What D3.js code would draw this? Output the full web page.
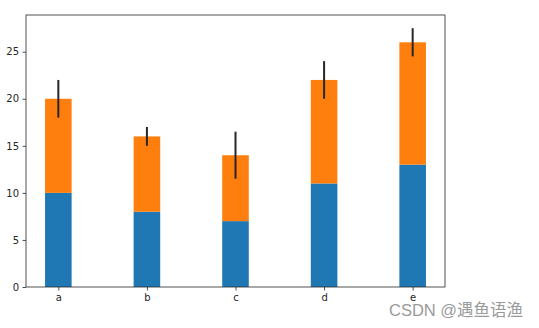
<!DOCTYPE html>
<html>
<head>
<meta charset="utf-8">
<script src="https://cdn.jsdelivr.net/npm/d3@7"></script>
<style>
  body { margin: 0; background: #fff; }
  text { font-family: "DejaVu Sans", sans-serif; }
</style>
</head>
<body>
<script>
// data
const labels = ['a', 'b', 'c', 'd', 'e'];
const bottomVals = [10, 8, 7, 11, 13];
const topVals = [10, 8, 7, 11, 13];
const errVals = [2, 1, 2.5, 2, 1.5];
const yTicks = [0, 5, 10, 15, 20, 25];

const WIDTH = 539, HEIGHT = 328;
const mLeft = 26, mRight = 445, mTop = 15, mBottom = 287;
const barW = 0.3;

const svg = d3.select('body').append('svg')
  .attr('width', WIDTH).attr('height', HEIGHT);

// x: bar index, padded like matplotlib's 5% margin
const x = d3.scaleLinear()
  .domain([-0.365, 4.365])
  .range([mLeft, mRight]);

const y = d3.scaleLinear()
  .domain([0, 28.9])
  .range([mBottom, mTop]);

const totals = bottomVals.map((v, i) => v + topVals[i]);

// bottom bars
svg.append('g').selectAll('rect')
  .data(bottomVals)
  .enter().append('rect')
  .attr('x', (d, i) => x(i - barW / 2))
  .attr('width', (d, i) => x(i + barW / 2) - x(i - barW / 2))
  .attr('y', d => y(d))
  .attr('height', d => y(0) - y(d))
  .attr('fill', '#1f77b4');

// stacked bars
svg.append('g').selectAll('rect')
  .data(topVals)
  .enter().append('rect')
  .attr('x', (d, i) => x(i - barW / 2))
  .attr('width', (d, i) => x(i + barW / 2) - x(i - barW / 2))
  .attr('y', (d, i) => y(totals[i]))
  .attr('height', (d, i) => y(bottomVals[i]) - y(totals[i]))
  .attr('fill', '#ff7f0e');

// error bars
svg.append('g').selectAll('line')
  .data(errVals)
  .enter().append('line')
  .attr('x1', (d, i) => x(i)).attr('x2', (d, i) => x(i))
  .attr('y1', (d, i) => y(totals[i] + d))
  .attr('y2', (d, i) => y(totals[i] - d))
  .attr('stroke', '#262626')
  .attr('stroke-width', 2);

// axes
const yAxis = d3.axisLeft(y).tickValues(yTicks).tickSize(3.5).tickPadding(3.5);
const xAxis = d3.axisBottom(x).tickValues(d3.range(labels.length))
  .tickFormat(i => labels[i]).tickSize(3.5).tickPadding(3.5);

const gy = svg.append('g').attr('transform', `translate(${mLeft},0)`).call(yAxis);
const gx = svg.append('g').attr('transform', `translate(0,${mBottom})`).call(xAxis);
[gx, gy].forEach(g => {
  g.select('.domain').remove();
  g.selectAll('line').attr('stroke', '#262626').attr('stroke-width', 0.8);
  g.selectAll('text').attr('fill', '#262626').style('font-size', '10px')
    .style('font-family', '"DejaVu Sans", sans-serif');
});

// frame
svg.append('rect')
  .attr('x', mLeft).attr('y', mTop)
  .attr('width', mRight - mLeft).attr('height', mBottom - mTop)
  .attr('fill', 'none').attr('stroke', '#262626').attr('stroke-width', 0.8);

// watermark (overlaps the "e" label, as in the source)
svg.append('text')
  .attr('x', 389).attr('y', 316)
  .attr('fill', '#9a9a9a')
  .style('font-size', '16.5px')
  .style('font-family', '"Liberation Sans", "Noto Sans CJK SC", sans-serif')
  .text('CSDN @遇鱼语渔');
</script>
</body>
</html>
